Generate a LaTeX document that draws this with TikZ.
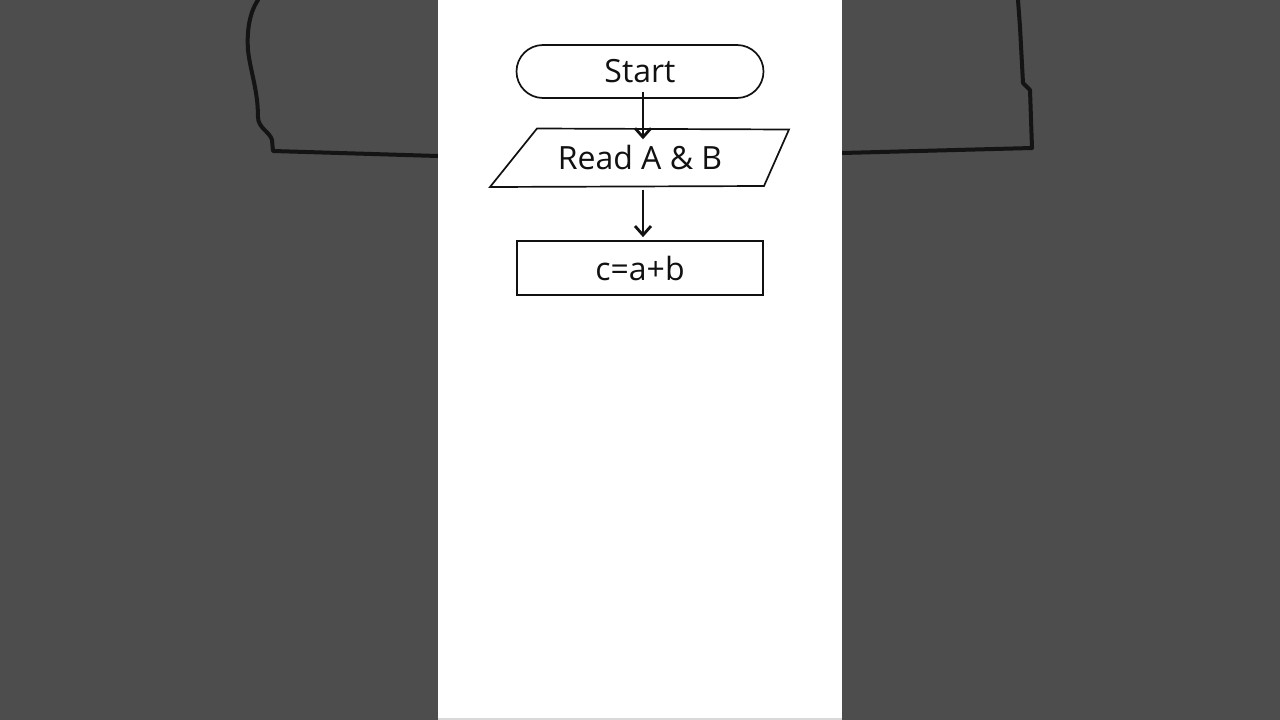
\documentclass[tikz,border=0pt]{standalone}
\usepackage{fontspec}
\setmainfont{Open Sans}
\usetikzlibrary{arrows.meta}
\definecolor{bggray}{HTML}{4D4D4D}
\definecolor{ink}{HTML}{111111}
\tikzset{
  shapeline/.style={draw=ink, line width=1.7pt},
  label/.style={font=\fontsize{32}{36}\selectfont, text=ink, inner sep=0pt},
  arr/.style={draw=ink, line width=2.8pt, -{Straight Barb[length=9pt,width=16pt,line width=2.8pt]}},
  bgline/.style={draw=black!92, line width=4pt, line cap=round, line join=round}
}
\begin{document}
\begin{tikzpicture}[x=1pt,y=-1pt]
\useasboundingbox (0,0) rectangle (1280,720);
\fill[bggray] (0,0) rectangle (1280,720);
% blurred background lines
\draw[bgline] (258,0) .. controls (248,15) and (247,35) .. (248,50)
  .. controls (250,70) and (258,90) .. (258,117)
  .. controls (258,128) and (270,132) .. (272,140) -- (273,151)
  -- (438,156);
\draw[bgline] (1018,0) -- (1020,27) -- (1023,83) -- (1030,90) -- (1032,148) -- (842,153);
% white panel
\fill[white] (438,0) rectangle (842,719);
\draw[black!15, line width=1.5pt] (438,719.2) -- (842,719.2);
% terminal
\node[shapeline, rounded corners=26.5pt, minimum width=247pt, minimum height=53pt, label] (start) at (640,71.5) {Start};
% parallelogram
\node[label, minimum width=250pt, minimum height=58pt] (read) at (640,157.5) {Read A \& B};
\draw[shapeline] (537,128.5) -- (789,129.5) -- (764,186) -- (490,187) -- cycle;
% process
\node[shapeline, minimum width=246pt, minimum height=54pt, label] (calc) at (640,268) {c=a+b};
% arrows
\draw[arr, shorten <=-7pt, shorten >=-11pt] ([xshift=3pt]start.south) -- ([xshift=3pt]read.north);
\draw[arr, shorten <=3pt, shorten >=3pt] ([xshift=3pt]read.south) -- ([xshift=3pt]calc.north);
\end{tikzpicture}
\end{document}
